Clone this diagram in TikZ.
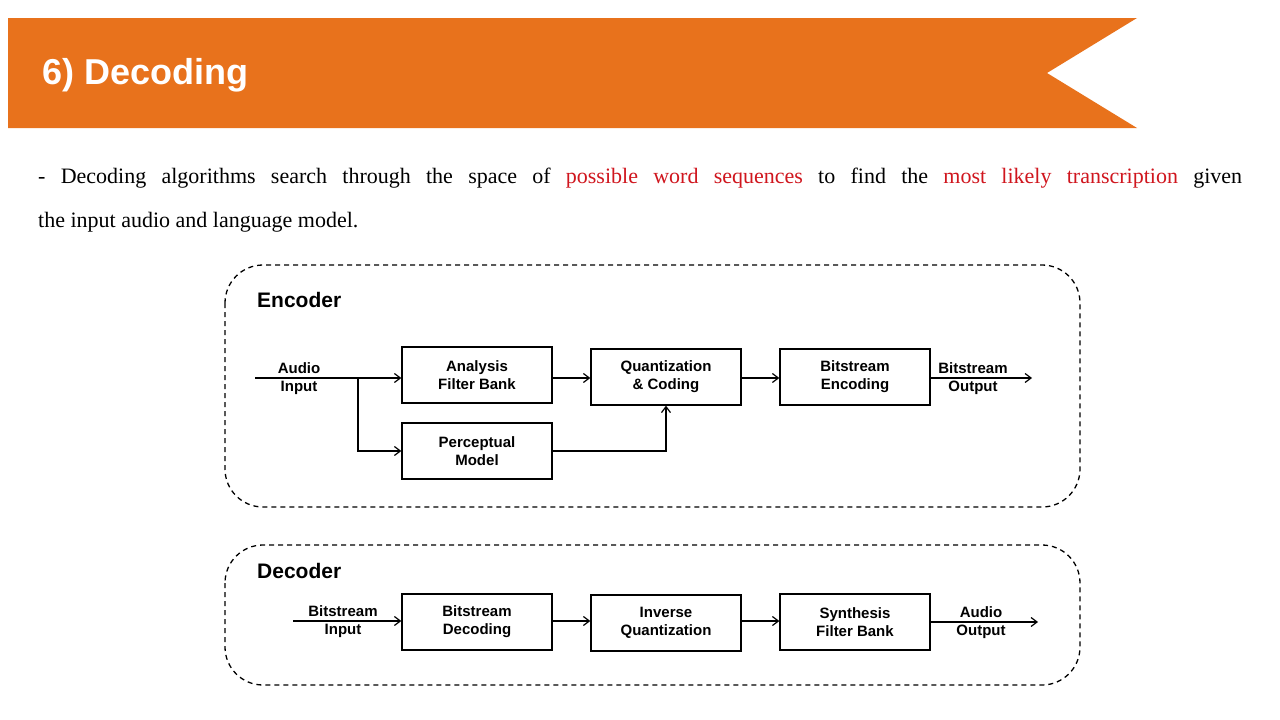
\documentclass[tikz,border=0pt]{standalone}
\usepackage{fontspec}
\setmainfont{Liberation Serif}
\setsansfont{Liberation Sans}
\usetikzlibrary{arrows.meta}
\definecolor{orng}{HTML}{E8721C}
\definecolor{redt}{HTML}{D0161E}
\begin{document}
\begin{tikzpicture}[x=1pt,y=-1pt,
  blk/.style={draw,line width=1.2pt,minimum width=150pt,minimum height=56pt,align=center,font=\sffamily\bfseries\fontsize{15}{18}\selectfont,inner sep=0pt},
  lbl/.style={align=center,font=\sffamily\bfseries\fontsize{15}{18}\selectfont,inner sep=0pt},
  arr/.style={-{Straight Barb[length=6pt,width=9pt]},line width=1.2pt},
  frame/.style={dashed,line width=1.3pt,dash pattern=on 5pt off 4pt,rounded corners=38pt},
  hd/.style={font=\sffamily\bfseries\fontsize{21}{24}\selectfont,anchor=west,inner sep=0pt}]
\useasboundingbox (0,0) rectangle (1280,720);
\fill[white] (0,0) rectangle (1280,720);
\fill[orng] (8,18) -- (1137,18) -- (1047,73) -- (1137,128) -- (8,128) -- cycle;
\node[anchor=west,text=white,font=\sffamily\bfseries\fontsize{36}{40}\selectfont,inner sep=0pt] (title) at (42,75) {6) Decoding};
\node[anchor=west,inner sep=0pt,font=\fontsize{22}{26}\selectfont] (l1) at (38,178) {\makebox[1204pt][s]{- Decoding algorithms search through the space of \textcolor{redt}{possible word sequences} to find the \textcolor{redt}{most likely transcription} given}};
\node[anchor=west,inner sep=0pt,font=\fontsize{22}{26}\selectfont] (l2) at (38,222) {the input audio and language model.};
\draw[frame] (225,265) rectangle (1080,507);
\draw[frame] (225,545) rectangle (1080,685);
\node[hd] (enc) at (257,300) {Encoder};
\node[hd] (dec) at (257,571) {Decoder};
\node[blk] (afb) at (477,375) {Analysis\\Filter Bank};
\node[blk] (qc) at (666,377) {Quantization\\\& Coding};
\node[blk] (be) at (855,377) {Bitstream\\Encoding};
\node[blk] (pm) at (477,451) {Perceptual\\Model};
\node[blk] (bd) at (477,622) {Bitstream\\Decoding};
\node[blk] (iq) at (666,623) {Inverse\\Quantization};
\node[blk] (sf) at (855,622) {Synthesis\\Filter Bank};
\node[lbl] (ai) at (299,379) {Audio\\Input};
\node[lbl] (bo) at (973,379) {Bitstream\\Output};
\node[lbl] (bi) at (343,622) {Bitstream\\Input};
\node[lbl] (ao) at (981,623) {Audio\\Output};
\coordinate (s1) at (255,378);
\coordinate (br) at (358,378);
\coordinate (e1) at (1032,378);
\coordinate (s2) at (293,621);
\coordinate (e2) at (1038,622);
\draw[arr] (s1) -- (afb.west|-s1);
\draw[arr] (br) |- (pm.west);
\draw[arr] (pm.east) -| (qc.south);
\draw[arr] (afb.east|-s1) -- (qc.west|-s1);
\draw[arr] (qc.east|-s1) -- (be.west|-s1);
\draw[arr] (be.east|-e1) -- (e1);
\draw[arr] (s2) -- (bd.west|-s2);
\draw[arr] (bd.east|-s2) -- (iq.west|-s2);
\draw[arr] (iq.east|-s2) -- (sf.west|-s2);
\draw[arr] (sf.east|-e2) -- (e2);
\end{tikzpicture}
\end{document}
